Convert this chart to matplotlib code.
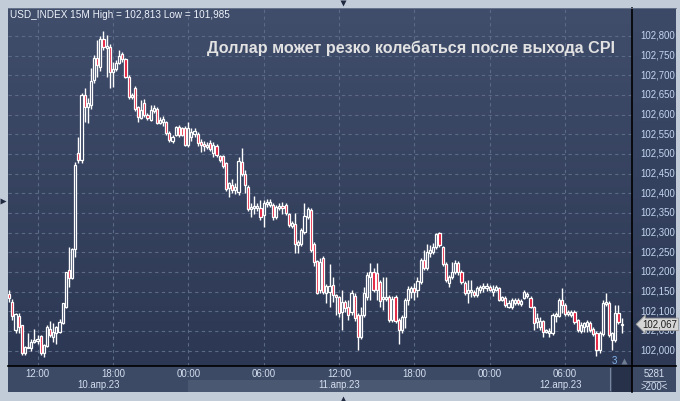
import numpy as np
import pandas as pd
import matplotlib
matplotlib.use("Agg")
import matplotlib.pyplot as plt
from matplotlib.patches import Rectangle

# ---------------- data (USD_INDEX, 15-minute candles) ----------------
start_time = "2023-04-10 09:45"
opens = [102.145, 102.123, 102.052, 102.088, 102.064, 101.993, 102.010, 102.006, 102.022, 102.025,
         102.038, 101.993, 102.013, 102.055, 102.035, 102.044, 102.047, 102.071, 102.112, 102.205,
         102.184, 102.258, 102.502, 102.485, 102.650, 102.619, 102.625, 102.688, 102.744, 102.721,
         102.792, 102.770, 102.772, 102.708, 102.716, 102.731, 102.754, 102.741, 102.696, 102.645,
         102.667, 102.619, 102.592, 102.629, 102.599, 102.586, 102.609, 102.614, 102.579, 102.580,
         102.581, 102.553, 102.533, 102.548, 102.569, 102.566, 102.566, 102.523, 102.543, 102.551,
         102.551, 102.530, 102.525, 102.518, 102.528, 102.503, 102.520, 102.495, 102.495, 102.477,
         102.413, 102.421, 102.408, 102.403, 102.480, 102.449, 102.416, 102.360, 102.362, 102.362,
         102.363, 102.345, 102.373, 102.370, 102.370, 102.340, 102.362, 102.368, 102.370, 102.347,
         102.317, 102.322, 102.268, 102.271, 102.302, 102.340, 102.358, 102.271, 102.227, 102.154,
         102.235, 102.146, 102.149, 102.167, 102.141, 102.136, 102.098, 102.123, 102.110, 102.098,
         102.139, 102.090, 102.034, 102.090, 102.136, 102.187, 102.200, 102.197, 102.174, 102.131,
         102.131, 102.136, 102.078, 102.136, 102.078, 102.052, 102.085, 102.129, 102.149, 102.159,
         102.154, 102.174, 102.230, 102.210, 102.248, 102.251, 102.263, 102.299, 102.263, 102.220,
         102.172, 102.187, 102.200, 102.223, 102.200, 102.172, 102.146, 102.149, 102.149, 102.141,
         102.154, 102.159, 102.159, 102.162, 102.149, 102.154, 102.159, 102.129, 102.134, 102.111,
         102.111, 102.121, 102.129, 102.118, 102.134, 102.139, 102.134, 102.111, 102.073, 102.060,
         102.075, 102.047, 102.045, 102.045, 102.088, 102.088, 102.129, 102.116, 102.093, 102.090,
         102.098, 102.078, 102.050, 102.060, 102.063, 102.070, 102.055, 102.045, 102.002, 102.042,
         102.118, 102.121, 102.027, 102.027, 102.095, 102.065]
highs = [102.154, 102.131, 102.095, 102.096, 102.066, 102.012, 102.045, 102.030, 102.055, 102.040,
         102.040, 102.016, 102.064, 102.076, 102.070, 102.063, 102.080, 102.122, 102.201, 102.264,
         102.262, 102.480, 102.543, 102.655, 102.668, 102.642, 102.719, 102.752, 102.790, 102.800,
         102.813, 102.803, 102.780, 102.734, 102.739, 102.764, 102.759, 102.745, 102.700, 102.655,
         102.672, 102.622, 102.637, 102.640, 102.604, 102.624, 102.624, 102.620, 102.594, 102.597,
         102.585, 102.558, 102.548, 102.572, 102.574, 102.569, 102.571, 102.581, 102.566, 102.566,
         102.556, 102.538, 102.533, 102.530, 102.536, 102.530, 102.525, 102.497, 102.497, 102.480,
         102.429, 102.436, 102.426, 102.492, 102.515, 102.459, 102.420, 102.375, 102.393, 102.375,
         102.383, 102.383, 102.385, 102.386, 102.375, 102.370, 102.375, 102.378, 102.375, 102.350,
         102.330, 102.350, 102.281, 102.312, 102.375, 102.365, 102.363, 102.276, 102.230, 102.235,
         102.240, 102.170, 102.220, 102.187, 102.143, 102.140, 102.154, 102.128, 102.129, 102.154,
         102.146, 102.095, 102.111, 102.161, 102.200, 102.223, 102.210, 102.223, 102.180, 102.187,
         102.187, 102.141, 102.139, 102.141, 102.083, 102.090, 102.134, 102.164, 102.164, 102.172,
         102.187, 102.235, 102.256, 102.271, 102.268, 102.273, 102.299, 102.302, 102.266, 102.225,
         102.192, 102.225, 102.230, 102.228, 102.205, 102.177, 102.180, 102.180, 102.154, 102.164,
         102.167, 102.172, 102.172, 102.167, 102.167, 102.167, 102.162, 102.139, 102.139, 102.129,
         102.134, 102.134, 102.134, 102.131, 102.154, 102.149, 102.139, 102.113, 102.095, 102.085,
         102.078, 102.055, 102.057, 102.095, 102.098, 102.134, 102.159, 102.121, 102.103, 102.103,
         102.103, 102.080, 102.073, 102.073, 102.078, 102.075, 102.060, 102.050, 102.050, 102.129,
         102.146, 102.126, 102.047, 102.116, 102.116, 102.083]
lows = [102.124, 102.078, 102.045, 102.045, 101.990, 101.990, 102.007, 101.998, 102.020, 102.018,
        101.990, 101.985, 102.010, 102.035, 102.022, 102.016, 102.045, 102.068, 102.109, 102.161,
        102.182, 102.239, 102.478, 102.478, 102.581, 102.579, 102.615, 102.680, 102.696, 102.710,
        102.765, 102.696, 102.667, 102.670, 102.712, 102.728, 102.735, 102.692, 102.640, 102.640,
        102.608, 102.581, 102.588, 102.595, 102.586, 102.583, 102.604, 102.575, 102.576, 102.571,
        102.548, 102.530, 102.528, 102.545, 102.543, 102.545, 102.520, 102.518, 102.533, 102.543,
        102.520, 102.505, 102.508, 102.513, 102.508, 102.492, 102.492, 102.480, 102.464, 102.406,
        102.391, 102.400, 102.398, 102.396, 102.445, 102.400, 102.355, 102.340, 102.347, 102.355,
        102.332, 102.314, 102.365, 102.365, 102.332, 102.335, 102.358, 102.347, 102.345, 102.314,
        102.312, 102.248, 102.248, 102.266, 102.297, 102.335, 102.251, 102.215, 102.144, 102.146,
        102.144, 102.121, 102.111, 102.123, 102.090, 102.085, 102.052, 102.098, 102.078, 102.090,
        102.075, 102.001, 102.030, 102.085, 102.130, 102.129, 102.150, 102.129, 102.111, 102.103,
        102.126, 102.073, 102.073, 102.070, 102.017, 102.045, 102.057, 102.116, 102.134, 102.129,
        102.136, 102.169, 102.205, 102.205, 102.238, 102.245, 102.258, 102.263, 102.215, 102.175,
        102.162, 102.182, 102.195, 102.192, 102.170, 102.141, 102.121, 102.136, 102.136, 102.136,
        102.146, 102.149, 102.151, 102.151, 102.139, 102.151, 102.126, 102.126, 102.111, 102.108,
        102.106, 102.116, 102.116, 102.113, 102.131, 102.134, 102.108, 102.052, 102.057, 102.052,
        102.035, 102.045, 102.035, 102.040, 102.073, 102.085, 102.095, 102.088, 102.088, 102.085,
        102.068, 102.047, 102.045, 102.047, 102.047, 102.047, 102.037, 101.986, 101.994, 102.037,
        102.113, 102.035, 102.002, 102.022, 102.068, 102.045]
closes = [102.135, 102.088, 102.092, 102.060, 101.993, 102.010, 102.008, 102.023, 102.028, 102.030,
          101.993, 102.014, 102.061, 102.039, 102.048, 102.061, 102.074, 102.120, 102.199, 102.184,
          102.258, 102.472, 102.484, 102.650, 102.619, 102.630, 102.686, 102.744, 102.726, 102.792,
          102.772, 102.775, 102.708, 102.716, 102.731, 102.749, 102.741, 102.696, 102.645, 102.650,
          102.614, 102.594, 102.612, 102.599, 102.592, 102.612, 102.617, 102.579, 102.586, 102.588,
          102.553, 102.536, 102.543, 102.569, 102.548, 102.548, 102.523, 102.566, 102.556, 102.558,
          102.528, 102.523, 102.521, 102.523, 102.513, 102.523, 102.497, 102.485, 102.469, 102.411,
          102.426, 102.408, 102.416, 102.482, 102.449, 102.421, 102.360, 102.365, 102.368, 102.368,
          102.340, 102.375, 102.378, 102.378, 102.340, 102.365, 102.368, 102.362, 102.350, 102.319,
          102.324, 102.271, 102.276, 102.307, 102.342, 102.360, 102.256, 102.225, 102.146, 102.225,
          102.149, 102.164, 102.164, 102.141, 102.136, 102.095, 102.123, 102.108, 102.090, 102.146,
          102.083, 102.034, 102.090, 102.146, 102.192, 102.200, 102.154, 102.154, 102.126, 102.136,
          102.136, 102.078, 102.131, 102.075, 102.052, 102.085, 102.129, 102.157, 102.159, 102.149,
          102.177, 102.230, 102.210, 102.251, 102.256, 102.263, 102.296, 102.268, 102.220, 102.180,
          102.187, 102.200, 102.223, 102.200, 102.174, 102.146, 102.154, 102.154, 102.141, 102.159,
          102.162, 102.164, 102.164, 102.154, 102.157, 102.162, 102.129, 102.136, 102.116, 102.121,
          102.129, 102.129, 102.121, 102.126, 102.149, 102.144, 102.111, 102.070, 102.083, 102.075,
          102.047, 102.052, 102.050, 102.090, 102.093, 102.129, 102.116, 102.093, 102.098, 102.098,
          102.073, 102.052, 102.065, 102.070, 102.073, 102.052, 102.042, 102.002, 102.045, 102.121,
          102.123, 102.040, 102.045, 102.095, 102.073, 102.067]
price_ticks = [102.000, 102.050, 102.100, 102.150, 102.200, 102.250, 102.300, 102.350, 102.400,
               102.450, 102.500, 102.550, 102.600, 102.650, 102.700, 102.750, 102.800]
month_ru = {4: "апр"}
title_text = "Доллар может резко колебаться после выхода CPI"
info_text = "USD_INDEX 15M High = 102,813 Low = 101,985"
bars_count = "5281"
zoom_text = ">200<"
shift_text = "3"

# ---------------- figure ----------------
W, H = 680, 401
plt.rcParams["font.family"] = ["Liberation Sans", "DejaVu Sans"]
fig = plt.figure(figsize=(W / 100, H / 100), dpi=100)
fig.patch.set_facecolor("#c2cbd8")


def fa(x0, y0, x1, y1):
    return [x0 / W, 1 - y1 / H, (x1 - x0) / W, (y1 - y0) / H]


def gradient(ax, top, bottom):
    c1 = np.array(matplotlib.colors.to_rgb(top))
    c2 = np.array(matplotlib.colors.to_rgb(bottom))
    t = np.linspace(0, 1, 256)[:, None]
    img = (c1[None, :] * (1 - t) + c2[None, :] * t)[:, None, :]
    ax.imshow(img, extent=[0, 1, 0, 1], transform=ax.transAxes, aspect="auto",
              zorder=0, interpolation="bilinear")


o = np.array(opens)
hi = np.array(highs)
lo = np.array(lows)
c = np.array(closes)
n = len(c)
idx = np.arange(n)
times = pd.date_range(start_time, periods=n + 12, freq="15min")

px_per_bar = 3.14
xmin = -0.41
xmax = xmin + 624 / px_per_bar
ymin, ymax = 101.961, 102.871

# main price panel
ax = fig.add_axes(fa(8, 8, 632, 366))
gradient(ax, "#404d6b", "#2c3853")
ax.set_xlim(xmin, xmax)
ax.set_ylim(ymin, ymax)
for s in ax.spines.values():
    s.set_visible(False)
ax.set_xticks([])
ax.set_yticks([])

tick_idx = [k for k in range(len(times)) if times[k].minute == 0 and times[k].hour % 6 == 0
            and xmin < k < xmax]
for k in tick_idx:
    ax.axvline(k, color="#5b6a86", lw=0.8, ls=(0, (3, 3)), zorder=1)
for p in price_ticks:
    ax.axhline(p, color="#5b6a86", lw=0.8, ls=(0, (3, 3)), zorder=1)

up = c >= o
body_lo = np.minimum(o, c)
body_hi = np.maximum(o, c)
ax.vlines(idx, body_hi, hi, color="white", lw=1.0, zorder=3)
ax.vlines(idx, lo, body_lo, color="white", lw=1.0, zorder=3)
bw = 0.68
ax.bar(idx[up], (c - o)[up], bottom=o[up], width=bw, facecolor="#33405d",
       edgecolor="white", lw=0.9, zorder=4)
ax.bar(idx[~up], (o - c)[~up], bottom=c[~up], width=bw, facecolor="#e3102f",
       edgecolor="white", lw=0.9, zorder=4)

ax.text(0.003, 0.981, info_text, transform=ax.transAxes, ha="left", va="center",
        fontsize=7.2, color="#eef2fa", zorder=6)
ax.text(0.6458, 0.888, title_text, transform=ax.transAxes, ha="center", va="center",
        fontsize=11.6, fontweight="bold", color="#e2e2e2", zorder=6)

# right price scale
axr = fig.add_axes(fa(632, 8, 676, 366))
gradient(axr, "#3c4a68", "#2d3955")
axr.set_ylim(ymin, ymax)
axr.set_xlim(0, 1)
axr.axis("off")
for p in price_ticks:
    axr.text(0.2, p, f"{p:.3f}".replace(".", ","), ha="left", va="center",
             fontsize=6.9, color="#c4d6f0", zorder=3)
axr.text(0.24, c[-1], f"{c[-1]:.3f}".replace(".", ","), ha="left", va="center",
         fontsize=6.9, color="#1c1c1c", zorder=5,
         bbox=dict(boxstyle="larrow,pad=0.12", fc="#d6d6d6", ec="#9a9a9a", lw=0.6))

# bottom time scale
axb = fig.add_axes(fa(8, 366, 632, 392))
axb.set_facecolor("#3d4a66")
axb.set_xlim(xmin, xmax)
axb.set_ylim(0, 1)
for s in axb.spines.values():
    s.set_visible(False)
axb.set_xticks([])
axb.set_yticks([])
for k in tick_idx:
    axb.text(k, 0.69, times[k].strftime("%H:%M"), ha="center", va="center",
             fontsize=6.9, color="#d3deee")
days = sorted(set(t.normalize() for t in times[:n]))
for d in days:
    k0 = (d - times[0]) / pd.Timedelta("15min")
    k1 = k0 + 96
    a, b = max(k0, xmin), min(k1, xmax)
    if d.day == 11:
        axb.axvspan(a, b, ymin=0, ymax=0.46, color="#4b5872", zorder=0, lw=0)
    label = f"{d.day:02d}.{month_ru[d.month]}.{d.year % 100:02d}"
    axb.text((a + b) / 2, 0.27, label, ha="center", va="center",
             fontsize=6.9, color="#d3deee", zorder=2)

# corner box
axc = fig.add_axes(fa(632, 366, 676, 392))
axc.set_facecolor("#3d4a66")
axc.set_xlim(0, 1)
axc.set_ylim(0, 1)
for s in axc.spines.values():
    s.set_visible(False)
axc.set_xticks([])
axc.set_yticks([])
axc.text(0.5, 0.70, bars_count, ha="center", va="center", fontsize=6.9, color="#d3deee")
axc.plot([0.25, 0.75], [0.44, 0.44], color="#aab6c8", lw=0.7)
axc.text(0.5, 0.20, zoom_text, ha="center", va="center", fontsize=6.9, color="#d3deee")

# decorations in pixel space
deco = fig.add_axes([0, 0, 1, 1], zorder=10)
deco.set_xlim(0, W)
deco.set_ylim(H, 0)
deco.axis("off")
deco.patch.set_alpha(0)
deco.add_patch(Rectangle((612, 367), 20, 25, facecolor="#27314a", edgecolor="none"))
deco.plot([610, 610], [368, 390], color="#7a879c", lw=0.8)
deco.plot([632, 632], [8, 392], color="black", lw=1.2)
deco.plot([8, 676], [366, 366], color="black", lw=1.2)
deco.plot([8, 676], [8, 8], color="#6d7a90", lw=0.6)
deco.text(614, 361, shift_text, ha="center", va="center", fontsize=7, color="#86b4ee")
deco.plot([624], [361], marker="^", ms=4, color="#6f7c92", mec="none")
deco.plot([343], [3], marker="v", ms=5, color="#1f2a40", mec="none")
deco.plot([343], [398.5], marker="^", ms=5, color="#1f2a40", mec="none")
deco.plot([3], [201], marker=">", ms=5, color="#1f2a40", mec="none")

fig.savefig("out.png", dpi=100, facecolor=fig.get_facecolor())
